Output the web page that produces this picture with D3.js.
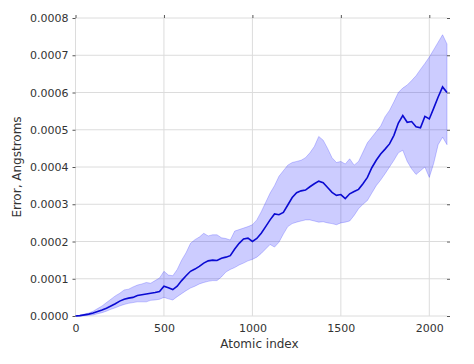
<!DOCTYPE html>
<html>
  <head lang="en">
    <meta charset="utf-8">
    <title>Error per atomic index</title>
    <script type="text/javascript" src="https://cdn.jsdelivr.net/npm/d3@7/dist/d3.min.js"></script>
    <style>
      body { margin: 0; background: #fff; }
      text { font-family: "DejaVu Sans", sans-serif; }
    </style>
  </head>
  <body>
    <script type="text/javascript">

      // atomic index samples
      var atomIndex = [0, 25, 50, 75, 100, 125, 150, 175, 200, 225, 250, 275, 300, 325, 350, 375, 400, 425, 450, 475,
                       500, 525, 550, 575, 600, 625, 650, 675, 700, 725, 750, 775, 800, 825, 850, 875, 900, 925, 950, 975,
                       1000, 1025, 1050, 1075, 1100, 1125, 1150, 1175, 1200, 1225, 1250, 1275, 1300, 1325, 1350, 1375, 1400, 1425, 1450, 1475,
                       1500, 1525, 1550, 1575, 1600, 1625, 1650, 1675, 1700, 1725, 1750, 1775, 1800, 1825, 1850, 1875, 1900, 1925, 1950, 1975,
                       2000, 2025, 2050, 2075, 2100];

      // mean error, in units of 1e-4 Angstrom
      var meanError = [0, 0.01, 0.03, 0.05, 0.08, 0.12, 0.16, 0.21, 0.27, 0.33, 0.40, 0.45, 0.48, 0.50, 0.55, 0.57, 0.59, 0.61, 0.63, 0.66,
                       0.80, 0.76, 0.71, 0.80, 0.95, 1.08, 1.20, 1.26, 1.33, 1.42, 1.48, 1.50, 1.49, 1.55, 1.58, 1.62, 1.80, 1.95, 2.07, 2.09,
                       2.00, 2.08, 2.22, 2.40, 2.58, 2.74, 2.72, 2.78, 2.98, 3.18, 3.31, 3.36, 3.38, 3.47, 3.55, 3.62, 3.58, 3.45, 3.32, 3.24,
                       3.26, 3.15, 3.28, 3.34, 3.40, 3.55, 3.72, 3.98, 4.18, 4.35, 4.48, 4.62, 4.85, 5.18, 5.38, 5.20, 5.22, 5.08, 5.05, 5.36,
                       5.29, 5.58, 5.88, 6.15, 6.00];

      // upper edge of the band
      var upperError = [0, 0.02, 0.05, 0.08, 0.13, 0.20, 0.27, 0.36, 0.45, 0.54, 0.61, 0.70, 0.72, 0.78, 0.83, 0.86, 0.90, 0.88, 0.95, 1.02,
                        1.20, 1.10, 1.08, 1.25, 1.50, 1.70, 1.95, 2.05, 2.12, 2.22, 2.15, 2.18, 2.18, 2.10, 2.08, 2.04, 2.28, 2.32, 2.36, 2.40,
                        2.45, 2.58, 2.80, 3.05, 3.30, 3.50, 3.75, 3.90, 4.05, 4.12, 4.15, 4.18, 4.25, 4.38, 4.55, 4.82, 4.72, 4.50, 4.25, 4.12,
                        4.15, 4.08, 4.22, 4.05, 4.15, 4.40, 4.65, 4.80, 4.95, 5.10, 5.35, 5.52, 5.75, 6.00, 6.12, 6.20, 6.32, 6.45, 6.62, 6.78,
                        6.95, 7.15, 7.35, 7.55, 7.30];

      // lower edge of the band
      var lowerError = [0, 0.00, 0.01, 0.02, 0.03, 0.06, 0.09, 0.13, 0.18, 0.22, 0.27, 0.31, 0.34, 0.36, 0.38, 0.38, 0.38, 0.42, 0.43, 0.45,
                        0.50, 0.46, 0.43, 0.52, 0.60, 0.68, 0.75, 0.80, 0.86, 0.90, 0.93, 0.95, 0.95, 1.05, 1.18, 1.25, 1.30, 1.37, 1.42, 1.48,
                        1.52, 1.58, 1.68, 1.80, 1.92, 1.85, 1.98, 2.20, 2.40, 2.48, 2.52, 2.55, 2.58, 2.58, 2.55, 2.52, 2.53, 2.50, 2.48, 2.45,
                        2.50, 2.52, 2.55, 2.70, 2.88, 3.00, 3.10, 3.30, 3.50, 3.65, 3.82, 4.00, 4.18, 4.38, 4.45, 4.15, 3.95, 3.80, 3.90, 4.00,
                        3.72, 4.10, 4.60, 4.80, 4.60];

      var xTicks = [0, 500, 1000, 1500, 2000];
      var yTicks = [0, 0.0001, 0.0002, 0.0003, 0.0004, 0.0005, 0.0006, 0.0007, 0.0008];

      var unit = 1e-4;

      // svg size and plot area
      var width = 474, height = 364;
      var margin = {top: 18, right: 27, bottom: 48, left: 75.5};
      var plot_w = width - margin.left - margin.right;
      var plot_h = height - margin.top - margin.bottom;

      var svg = d3.select("body")
                  .append("svg")
                  .attr("width", width)
                  .attr("height", height);

      var g = svg.append("g")
                 .attr("transform", "translate(" + margin.left + "," + margin.top + ")");

      // scales
      var x_scale = d3.scaleLinear().domain([0, 2100]).range([0, plot_w]);
      var y_scale = d3.scaleLinear().domain([0, 0.0008]).range([plot_h, 0]);

      var data = atomIndex.map(function(a, i) {
        return {x: a, mean: meanError[i] * unit, lo: lowerError[i] * unit, hi: upperError[i] * unit};
      });

      // grid lines
      g.append("g")
        .selectAll("line")
        .data(yTicks)
        .enter()
        .append("line")
        .attr("x1", 0).attr("x2", plot_w)
        .attr("y1", function(d) { return y_scale(d); })
        .attr("y2", function(d) { return y_scale(d); })
        .attr("stroke", "#dcdcdc")
        .attr("stroke-width", 1);

      g.append("g")
        .selectAll("line")
        .data(xTicks)
        .enter()
        .append("line")
        .attr("x1", function(d) { return x_scale(d); })
        .attr("x2", function(d) { return x_scale(d); })
        .attr("y1", 0).attr("y2", plot_h)
        .attr("stroke", "#dcdcdc")
        .attr("stroke-width", 1);

      // band
      var area = d3.area()
                   .x(function(d) { return x_scale(d.x); })
                   .y0(function(d) { return y_scale(d.lo); })
                   .y1(function(d) { return y_scale(d.hi); });

      g.append("path")
        .datum(data)
        .attr("d", area)
        .attr("fill", "#0000ff")
        .attr("fill-opacity", 0.2)
        .attr("stroke", "#0000ff")
        .attr("stroke-opacity", 0.2)
        .attr("stroke-width", 1);

      // mean line
      var line = d3.line()
                   .x(function(d) { return x_scale(d.x); })
                   .y(function(d) { return y_scale(d.mean); });

      g.append("path")
        .datum(data)
        .attr("d", line)
        .attr("fill", "none")
        .attr("stroke", "#0a0ad2")
        .attr("stroke-width", 1.6);

      // axes
      var fmt = d3.format(".4f");

      var leftAxis = g.append("g")
        .call(d3.axisLeft(y_scale).tickValues(yTicks).tickFormat(fmt).tickSize(3).tickPadding(4));

      var rightAxis = g.append("g")
        .attr("transform", "translate(" + plot_w + ",0)")
        .call(d3.axisRight(y_scale).tickValues(yTicks).tickFormat("").tickSize(3));

      var topAxis = g.append("g")
        .call(d3.axisTop(x_scale).tickValues(xTicks).tickFormat("").tickSize(3));

      var bottomAxis = g.append("g")
        .attr("transform", "translate(0," + plot_h + ")")
        .call(d3.axisBottom(x_scale).tickValues(xTicks).tickFormat(d3.format("d")).tickSize(0).tickPadding(8));

      [leftAxis, rightAxis, topAxis, bottomAxis].forEach(function(a) {
        a.select(".domain").remove();
        a.selectAll("line").attr("stroke", "#555");
        a.selectAll("text")
          .attr("fill", "#333")
          .style("font-size", "11px")
          .style("font-family", "DejaVu Sans, sans-serif");
      });

      // axis labels
      svg.append("text")
        .attr("x", margin.left + x_scale(1040))
        .attr("y", 348)
        .attr("text-anchor", "middle")
        .attr("fill", "#333")
        .style("font-size", "12px")
        .text("Atomic index");

      svg.append("text")
        .attr("transform", "translate(21," + (margin.top + plot_h / 2) + ") rotate(-90)")
        .attr("text-anchor", "middle")
        .attr("fill", "#333")
        .style("font-size", "12px")
        .text("Error, Angstroms");

    </script>
  </body>
</html>
